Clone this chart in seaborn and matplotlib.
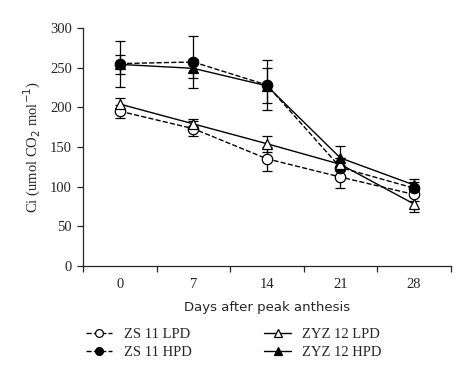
import numpy as np
import pandas as pd
import matplotlib
matplotlib.use("Agg")
import matplotlib.pyplot as plt
import seaborn as sns
from matplotlib.ticker import FixedLocator

days = [0, 7, 14, 21, 28]
series_names = ["ZS 11 LPD", "ZS 11 HPD", "ZYZ 12 LPD", "ZYZ 12 HPD"]

zs_lpd = [195, 173, 135, 112, 90]
zs_lpd_err = [8, 9, 15, 14, 8]
zs_hpd = [255, 257, 228, 124, 98]
zs_hpd_err = [29, 33, 32, 12, 8]
zyz_lpd = [204, 179, 154, 128, 78]
zyz_lpd_err = [7, 6, 10, 8, 10]
zyz_hpd = [254, 249, 227, 136, 102]
zyz_hpd_err = [12, 12, 22, 15, 8]

values = [zs_lpd, zs_hpd, zyz_lpd, zyz_hpd]
errors = [zs_lpd_err, zs_hpd_err, zyz_lpd_err, zyz_hpd_err]

rows = []
for name, vals, errs in zip(series_names, values, errors):
    for d, v, e in zip(days, vals, errs):
        rows.append({"day": d, "ci": v, "err": e, "series": name})
df = pd.DataFrame(rows)

sns.set_style("ticks")
plt.rcParams["font.family"] = ["Liberation Serif", "DejaVu Serif"]

fig = plt.figure(figsize=(4.74, 3.82), dpi=100)
ax = fig.add_axes([0.175, 0.304, 0.776, 0.623])

styles = {
    "ZS 11 LPD": dict(marker="o", mfc="white", ls="--"),
    "ZS 11 HPD": dict(marker="o", mfc="black", ls="--"),
    "ZYZ 12 LPD": dict(marker="^", mfc="white", ls="-"),
    "ZYZ 12 HPD": dict(marker="^", mfc="black", ls="-"),
}

for name in series_names:
    sub = df[df["series"] == name]
    st = styles[name]
    ax.errorbar(sub["day"], sub["ci"], yerr=sub["err"], fmt="none",
                ecolor="black", elinewidth=0.9, capsize=3.5, capthick=0.9, zorder=2)
    sns.lineplot(data=sub, x="day", y="ci", ax=ax, color="black", lw=1.0,
                 linestyle=st["ls"], marker=st["marker"], markersize=7.5,
                 markerfacecolor=st["mfc"], markeredgecolor="black",
                 markeredgewidth=0.9, label=name, zorder=3)

ax.set_xlim(-3.5, 31.5)
ax.set_ylim(0, 300)
ax.set_xticks(days)
ax.set_xticklabels([str(d) for d in days])
ax.tick_params(axis="x", which="major", length=0, pad=9)
ax.xaxis.set_minor_locator(FixedLocator(np.arange(-3.5, 32, 7)))
ax.tick_params(axis="x", which="minor", length=4, width=0.9, direction="out")
ax.set_yticks(np.arange(0, 301, 50))
ax.tick_params(axis="y", length=4, width=0.9, direction="out", pad=4)
ax.tick_params(labelsize=10.5)
for s in ["top", "right"]:
    ax.spines[s].set_visible(False)
for s in ["left", "bottom"]:
    ax.spines[s].set_linewidth(0.9)

ax.set_xlabel("Days after peak anthesis", fontsize=9.5, family=["DejaVu Sans"], labelpad=7)
ax.set_ylabel("Ci (umol CO$_2$ mol$^{-1}$)", fontsize=10.5, labelpad=5)

handles, labels = ax.get_legend_handles_labels()
leg = ax.legend(handles, labels,
                ncol=2, loc="upper center", bbox_to_anchor=(0.41, -0.205),
                frameon=False, fontsize=10.5, handlelength=1.8, columnspacing=5.0,
                labelspacing=0.35, handletextpad=0.8, markerscale=0.75)

fig.savefig("out.png", dpi=100)
